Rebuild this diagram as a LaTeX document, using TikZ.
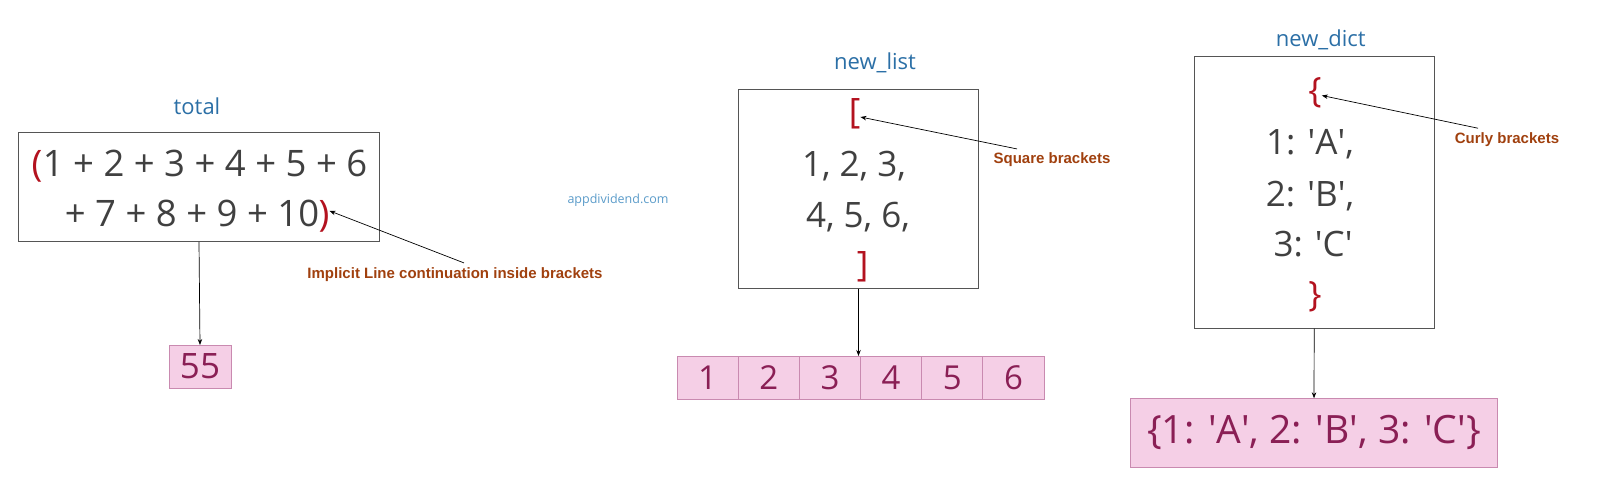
\documentclass[tikz,border=0pt]{standalone}
\usepackage{fontspec}
\setmainfont{Open Sans}
\newfontfamily\notefont{Liberation Sans}
\usetikzlibrary{positioning,arrows.meta}

\definecolor{varblue}{HTML}{2B6FA6}
\definecolor{siteblue}{HTML}{5A9BC9}
\definecolor{codegray}{HTML}{404040}
\definecolor{brkred}{HTML}{B3121F}
\definecolor{notebrown}{HTML}{A0400E}
\definecolor{pinkfill}{HTML}{F5CFE6}
\definecolor{pinkline}{HTML}{C98AB0}
\definecolor{pinktext}{HTML}{8A1F55}
\definecolor{framegray}{HTML}{555555}

\newcommand{\sq}[1]{\textquotesingle#1\textquotesingle}

\tikzset{
  varname/.style={text=varblue,font=\fontsize{22}{26}\selectfont,inner sep=0pt},
  frame/.style={draw=framegray,line width=0.9pt,inner sep=0pt},
  code/.style={text=codegray,font=\fontsize{35}{42}\selectfont,inner sep=0pt},
  brk/.style={text=brkred,font=\fontsize{35}{42}\selectfont,inner sep=0pt},
  note/.style={text=notebrown,font=\notefont\bfseries\fontsize{15}{18}\selectfont,inner sep=1pt},
  result/.style={draw=pinkline,fill=pinkfill,text=pinktext,line width=0.8pt,
    font=\fontsize{35}{42}\selectfont,inner sep=0pt,outer sep=0pt},
  conn/.style={-{Stealth[length=6pt,width=4.5pt]},line width=0.7pt,black}
}

\begin{document}
\begin{tikzpicture}[x=1pt,y=-1pt]
\useasboundingbox (0,0) rectangle (1600,486);

% sum in round brackets
\node[varname,anchor=base] (totlbl) at (197,115) {total};
\node[frame,minimum width=361pt,minimum height=109pt] (sumbox) at (199,187) {};
\node[code,font=\fontsize{36.5}{42}\selectfont,anchor=base] (l1) at (205,177) {1 + 2 + 3 + 4 + 5 + 6};
\node[brk,font=\fontsize{36.5}{42}\selectfont,anchor=base east] (lpar) at (l1.base west) {(};
\node[code,font=\fontsize{36.5}{42}\selectfont,anchor=base] (l2) at (192,227) {+ 7 + 8 + 9 + 10};
\node[brk,font=\fontsize{36.5}{42}\selectfont,anchor=base west] (rpar) at ([xshift=-1pt]l2.base east) {)};
\node[result,minimum width=62pt,minimum height=43pt] (n55) at (200,366.5) {55};
\node[note,anchor=base] (implnote) at (455,279) {Implicit Line continuation inside brackets};
\draw[conn] (sumbox.south) -- (n55.north);
\draw[conn] ([xshift=9pt,yshift=4pt]implnote.north) -- ([yshift=6pt]rpar.east);

\node[text=siteblue,font=\fontsize{12.5}{15}\selectfont,anchor=base] (site) at (618,204) {appdividend.com};

% list in square brackets
\node[varname,anchor=base] (lstlbl) at (875,70) {new\_list};
\node[frame,minimum width=240pt,minimum height=199pt] (listbox) at (858.5,188.7) {};
\node[brk] (lbrk) at (854.5,114) {[};
\node[code,anchor=base] (row1) at (854,177) {1, 2, 3,};
\node[code,anchor=base] (row2) at (858,228) {4, 5, 6,};
\node[brk] (rbrk) at (862.6,266.5) {]};
\foreach \i in {1,...,6}
  \node[result,minimum width=61.2pt,minimum height=43.3pt,font=\fontsize{33}{40}\selectfont]
    (c\i) at ({677+61.17*(\i-0.5)},377.6) {\i};
\node[note,anchor=base] (sqnote) at (1052,164) {Square brackets};
\draw[conn] (listbox.south) -- (listbox.south |- c3.north);
\draw[conn] ([xshift=-35pt,yshift=3pt]sqnote.north) -- ([yshift=-3pt]lbrk.east);

% dict in curly brackets
\node[varname,anchor=base] (dctlbl) at (1320.7,46.5) {new\_dict};
\node[frame,minimum width=240pt,minimum height=272pt] (dictbox) at (1314.2,192.2) {};
\node[brk] (lcur) at (1315,92.5) {\{};
\node[code,anchor=base] (kv1) at (1310,155) {1: \sq{A},};
\node[code,anchor=base] (kv2) at (1310,206.7) {2: \sq{B},};
\node[code,anchor=base] (kv3) at (1313,256.7) {3: \sq{C}};
\node[brk] (rcur) at (1315,296.7) {\}};
\node[result,minimum width=366.6pt,minimum height=69pt,font=\fontsize{39}{44}\selectfont]
  (dictout) at (1314,432.8) {\{1: \sq{A}, 2: \sq{B}, 3: \sq{C}\}};
\node[note,anchor=base] (cunote) at (1507,143.3) {Curly brackets};
\draw[conn] (dictbox.south) -- (dictout.north);
\draw[conn] ([xshift=-29pt,yshift=3pt]cunote.north) -- ([yshift=-3pt]lcur.east);
\end{tikzpicture}
\end{document}
